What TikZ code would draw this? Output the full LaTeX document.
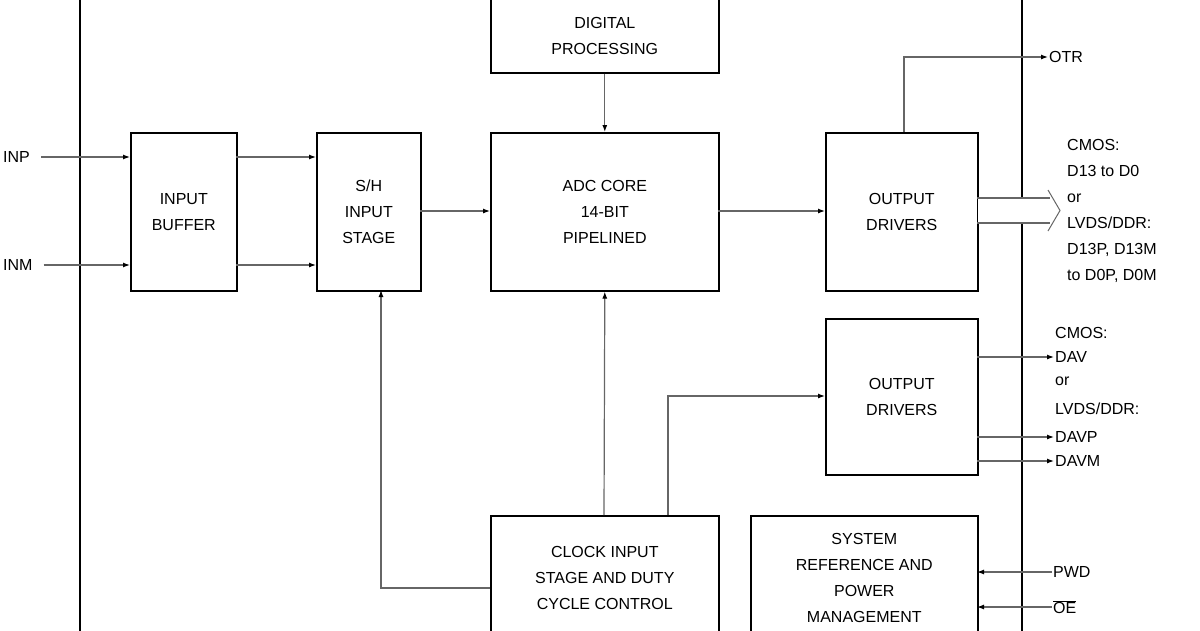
\documentclass[tikz,border=0pt]{standalone}
\usepackage{fontspec}
\setmainfont{Liberation Sans}
\usetikzlibrary{arrows.meta}
\begin{document}
\begin{tikzpicture}[x=1pt,y=-1pt,
  blk/.style={draw,line width=1.6pt,align=center,font=\fontsize{16}{26}\selectfont},
  lbl/.style={font=\fontsize{16}{21}\selectfont,align=left,anchor=west,inner sep=1pt},
  con/.style={draw=black!60,line width=1.2pt,-{Latex[length=7pt,width=5pt,black]}},
  ln/.style={draw=black!60,line width=1.2pt}]
\useasboundingbox (0,0) rectangle (1200,630);
\draw[line width=2pt] (80,-2) -- (80,632);
\draw[line width=2pt] (1022,-2) -- (1022,632);
\node[blk,minimum width=228,minimum height=74,anchor=north west] (dp) at (490,-2) {DIGITAL\\PROCESSING};
\node[blk,minimum width=106,minimum height=158,anchor=north west] (ib) at (130,132) {INPUT\\BUFFER};
\node[blk,minimum width=104,minimum height=158,anchor=north west] (sh) at (316,132) {S/H\\INPUT\\STAGE};
\node[blk,minimum width=228,minimum height=158,anchor=north west] (adc) at (490,132) {ADC CORE\\14-BIT\\PIPELINED};
\node[blk,minimum width=152,minimum height=158,anchor=north west] (od1) at (825,132) {OUTPUT\\DRIVERS};
\node[blk,minimum width=152,minimum height=156,anchor=north west] (od2) at (825,318) {OUTPUT\\DRIVERS};
\node[blk,minimum width=228,minimum height=125,anchor=north west] (clk) at (490,515) {\raisebox{6pt}{\parbox{220pt}{\centering CLOCK INPUT\\STAGE AND DUTY\\CYCLE CONTROL}}};
\node[blk,minimum width=227,minimum height=125,anchor=north west] (sys) at (750,515) {\raisebox{-4pt}{\parbox{220pt}{\centering SYSTEM\\REFERENCE AND\\POWER\\MANAGEMENT}}};
% inputs
\node[lbl] (inp) at (2,157) {INP};
\node[lbl] (inm) at (2,265) {INM};
\draw[con] (inp.east) ++(10,0) -- (130,157);
\draw[con] (inm.east) ++(10,0) -- (130,265);
\draw[con] (236,157) -- (316,157);
\draw[con] (236,265) -- (316,265);
\draw[con] (420,211) -- (490,211);
\draw[con] (718,211) -- (825,211);
\draw[con] (dp.south) -- (adc.north);
% OTR
\node[lbl] (otr) at (1048,57) {OTR};
\draw[con] (904,132) -- (904,57) -- (otr.west);
% hollow bus arrow
\fill[white] (978,198) rectangle (1050,223);
\draw[ln] (977,198) -- (1050,198);
\draw[ln] (977,223) -- (1050,223);
\draw[line width=1pt,black!60] (1048,190) -- (1060,210.5) -- (1048,231);
\node[lbl,font=\fontsize{16}{26}\selectfont] (bus) at (1066,211) {CMOS:\\D13 to D0\\or\\LVDS/DDR:\\D13P, D13M\\to D0P, D0M};
% OD2 outputs
\node[lbl] (c2) at (1054,333) {CMOS:};
\node[lbl] (dav) at (1054,357) {DAV};
\node[lbl] (or2) at (1054,381) {or};
\node[lbl] (lv2) at (1054,409) {LVDS/DDR:};
\node[lbl] (davp) at (1054,437) {DAVP};
\node[lbl] (davm) at (1054,461) {DAVM};
\draw[con] (977,357) -- (dav.west);
\draw[con] (977,437) -- (davp.west);
\draw[con] (977,461) -- (davm.west);
% clock
\draw[con] (604,515) -- (adc.south);
\draw[con] (668,515) -- (668,396) -- (825,396);
\draw[con] (490,588) -- (381,588) -- (381,290);
% pwd oe
\node[lbl] (pwd) at (1052,572) {PWD};
\node[lbl] (oe) at (1052,607) {$\overline{\mbox{OE}}$};
\draw[con] (pwd.west) -- (977,572);
\draw[con] (oe.west) -- (977,607);
\end{tikzpicture}
\end{document}
